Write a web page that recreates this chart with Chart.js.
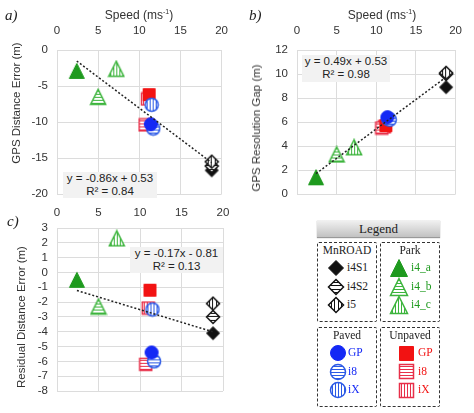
<!DOCTYPE html>
<html>
<head>
<meta charset="utf-8">
<script src="https://cdn.jsdelivr.net/npm/chart.js@4.4.1/dist/chart.umd.min.js"></script>
<style>
body { margin: 0; background: #fff; width: 474px; height: 413px; position: relative; overflow: hidden; font-family: "Liberation Sans", Arial, sans-serif; color: #333; }
canvas.plot { position: absolute; }
.txt { position: absolute; white-space: nowrap; }
.xtitle { font-size: 12px; transform: translate(-50%, -50%); }
.xtitle sup { font-size: 7px; }
.ytitle { font-size: 11.5px; transform: translate(-50%, -50%) rotate(-90deg); }
.tag { font-family: "Liberation Serif", serif; font-style: italic; font-size: 15px; color: #222; }
.eq { position: absolute; background: #f2f2f2; text-align: center; font-size: 11.5px; line-height: 13px; color: #222; padding-top: 0px; }
.lgbox { position: absolute; border: 1.5px dashed #333; box-sizing: border-box; border-radius: 2px; }
.lghead { position: absolute; background: linear-gradient(#f2f2f2, #c2c2c2); font-family: "Liberation Serif", serif; font-size: 13px; text-align: center; line-height: 17px; color: #222; box-shadow: 0 1px 1px #999; }
.lgtitle { position: absolute; width: 100%; text-align: center; font-family: "Liberation Serif", serif; font-size: 11.5px; color: #222; }
.lgitem { position: absolute; font-family: "Liberation Serif", serif; font-size: 11.5px; }
</style>
</head>
<body>

<canvas id="chartA" class="plot" width="240" height="210" style="left:0;top:0"></canvas>
<canvas id="chartB" class="plot" width="234" height="210" style="left:240px;top:0"></canvas>
<canvas id="chartC" class="plot" width="240" height="213" style="left:0;top:200px"></canvas>

<div class="txt tag" style="left:5px;top:7px">a)</div>
<div class="txt tag" style="left:249px;top:7px">b)</div>
<div class="txt tag" style="left:7px;top:213px">c)</div>

<div class="txt xtitle" style="left:139px;top:15px">Speed (ms<sup>-1</sup>)</div>
<div class="txt xtitle" style="left:382px;top:15px">Speed (ms<sup>-1</sup>)</div>

<div class="txt ytitle" style="left:16px;top:103px">GPS Distance Error (m)</div>
<div class="txt ytitle" style="left:256px;top:128px">GPS Resolution Gap (m)</div>
<div class="txt ytitle" style="left:21px;top:317px">Residual Distance Error (m)</div>

<div class="eq" id="eqA" style="left:63px;top:172px;width:94px;height:26px"></div>
<div class="eq" id="eqB" style="left:302px;top:55px;width:88px;height:27px"></div>
<div class="eq" id="eqC" style="left:130px;top:247px;width:93px;height:26px"></div>

<div id="legend"></div>

<script>
// series names (MnROAD, Park, Paved, Unpaved)
const names = ['i4S1', 'i4S2', 'i5', 'i4_a', 'i4_b', 'i4_c', 'GP', 'i8', 'iX', 'GP', 'i8', 'iX'];

// speed of each series (ms-1)
const speed = [18.8, 18.8, 18.8, 2.4, 5.0, 7.2, 11.4, 11.7, 11.5, 11.2, 10.7, 11.0];

// a) GPS distance error (m)
const distError = [-16.7, -16.1, -15.5, -2.9, -6.5, -2.6, -10.3, -10.9, -7.6, -6.2, -10.4, -6.8];
// b) GPS resolution gap (m)
const resGap = [8.9, 10.0, 10.1, 1.4, 3.3, 3.9, 6.4, 6.2, 6.3, 5.7, 5.5, 5.6];
// c) residual distance error (m)
const residError = [-4.1, -3.0, -2.1, -0.5, -2.3, 2.3, -5.4, -6.0, -2.5, -1.2, -6.2, -2.4];

// trend lines: [slope, intercept, R2]
const fitA = [-0.86, 0.53, 0.84];
const fitB = [0.49, 0.53, 0.98];
const fitC = [-0.17, -0.81, 0.13];

const xTicks = [0, 5, 10, 15, 20];
const yTicksA = [0, -5, -10, -15, -20];
const yTicksB = [0, 2, 4, 6, 8, 10, 12];
const yTicksC = [3, 2, 1, 0, -1, -2, -3, -4, -5, -6, -7, -8];

// marker looks
const BLACK = '#111', GREEN = '#1e9a1e', GREEN_L = '#3cb43c', BLUE = '#1428f5', BLUE_L = '#2c5ae6', RED = '#f21212', RED_L = '#e8304a';
const looks = [
    { shape: 'diamond', fill: 'solid', color: BLACK, size: 13 },
    { shape: 'diamond', fill: 'h', color: BLACK, size: 13 },
    { shape: 'diamond', fill: 'v', color: BLACK, size: 13 },
    { shape: 'tri', fill: 'solid', color: GREEN, size: 15 },
    { shape: 'tri', fill: 'h', color: GREEN_L, size: 15 },
    { shape: 'tri', fill: 'v', color: GREEN_L, size: 15 },
    { shape: 'circle', fill: 'solid', color: BLUE, size: 13 },
    { shape: 'circle', fill: 'h', color: BLUE_L, size: 13 },
    { shape: 'circle', fill: 'v', color: BLUE_L, size: 13 },
    { shape: 'square', fill: 'solid', color: RED, size: 12 },
    { shape: 'square', fill: 'h', color: RED_L, size: 12 },
    { shape: 'square', fill: 'v', color: RED_L, size: 12 }
];
// drawing order, lower = on top
const zOrder = [3, 2, 1, 4, 5, 6, 7, 8, 9, 11, 12, 13];

function makeMarker(look, size) {
    size = size || look.size;
    const pad = 1.5;
    const s = Math.ceil(size + 2 * pad);
    const cv = document.createElement('canvas');
    cv.width = s;
    cv.height = s;
    const g = cv.getContext('2d');
    const a = pad, b = s - pad, c = s / 2;
    const p = new Path2D();
    if (look.shape === 'tri') {
        p.moveTo(c, a); p.lineTo(b, b); p.lineTo(a, b); p.closePath();
    } else if (look.shape === 'square') {
        p.rect(a, a, b - a, b - a);
    } else if (look.shape === 'circle') {
        p.arc(c, c, (b - a) / 2, 0, Math.PI * 2);
    } else {
        p.moveTo(c, a); p.lineTo(b, c); p.lineTo(c, b); p.lineTo(a, c); p.closePath();
    }
    if (look.fill === 'solid') {
        g.fillStyle = look.color;
        g.fill(p);
        g.strokeStyle = look.color;
        g.lineWidth = 1;
        g.stroke(p);
    } else {
        g.fillStyle = '#fff';
        g.fill(p);
        g.save();
        g.clip(p);
        g.strokeStyle = look.color;
        g.lineWidth = 1;
        const step = look.shape === 'diamond' ? 3.5 : 3;
        for (let t = step; t < s; t += step) {
            g.beginPath();
            if (look.fill === 'h') {
                g.moveTo(0, Math.round(t) + 0.5); g.lineTo(s, Math.round(t) + 0.5);
            } else {
                g.moveTo(Math.round(t) + 0.5, 0); g.lineTo(Math.round(t) + 0.5, s);
            }
            g.stroke();
        }
        g.restore();
        g.strokeStyle = look.color;
        g.lineWidth = 1.5;
        g.stroke(p);
    }
    return cv;
}

const markers = looks.map(l => makeMarker(l));

const tickFont = { family: '"Liberation Sans", Arial, sans-serif', size: 11.5 };
const gridColor = '#dcdcdc';

function makePanel(id, yVals, fit, yTicks, opt) {
    const datasets = names.map((n, i) => ({
        label: n,
        data: [{ x: speed[i], y: yVals[i] }],
        pointStyle: markers[i],
        pointRadius: 7,
        order: zOrder[i]
    }));
    const xmin = Math.min(...speed), xmax = Math.max(...speed);
    datasets.push({
        label: 'trend',
        data: [{ x: xmin, y: fit[0] * xmin + fit[1] }, { x: xmax, y: fit[0] * xmax + fit[1] }],
        showLine: true,
        borderColor: '#222',
        borderWidth: 1.5,
        borderDash: [2, 2],
        pointRadius: 0,
        order: 0
    });
    const yMin = Math.min(...yTicks), yMax = Math.max(...yTicks);
    return new Chart(document.getElementById(id), {
        type: 'scatter',
        data: { datasets },
        options: {
            responsive: false,
            animation: false,
            layout: { padding: { left: 0, top: 0, right: opt.padR, bottom: opt.padB } },
            plugins: { legend: { display: false }, tooltip: { enabled: false } },
            scales: {
                x: {
                    type: 'linear',
                    position: 'top',
                    min: 0,
                    max: 20,
                    afterBuildTicks: s => { s.ticks = xTicks.map(v => ({ value: v })); },
                    afterFit: s => { s.height = opt.xH; },
                    grid: { color: gridColor, drawTicks: false },
                    border: { color: gridColor },
                    ticks: { font: tickFont, color: '#333', padding: opt.xPad, maxRotation: 0, autoSkip: false }
                },
                y: {
                    type: 'linear',
                    min: yMin,
                    max: yMax,
                    afterBuildTicks: s => { s.ticks = yTicks.map(v => ({ value: v })); },
                    afterFit: s => { s.width = opt.yW; },
                    grid: { color: gridColor, drawTicks: false },
                    border: { color: gridColor },
                    ticks: { font: tickFont, color: '#333', padding: 9, autoSkip: false }
                }
            }
        }
    });
}

makePanel('chartA', distError, fitA, yTicksA, { xH: 50, yW: 57, padR: 18, padB: 7, xPad: 12 });
makePanel('chartB', resGap, fitB, yTicksB, { xH: 50, yW: 57, padR: 7, padB: 9, xPad: 12 });
makePanel('chartC', residError, fitC, yTicksC, { xH: 28, yW: 57, padR: 17, padB: 22, xPad: 8 });

function fmt(v) {
    return v.toFixed(2);
}
function eqText(fit) {
    const sign = fit[1] < 0 ? ' - ' : ' + ';
    return 'y = ' + fmt(fit[0]) + 'x' + sign + fmt(Math.abs(fit[1])) + '<br>R² = ' + fmt(fit[2]);
}
document.getElementById('eqA').innerHTML = eqText(fitA);
document.getElementById('eqB').innerHTML = eqText(fitB);
document.getElementById('eqC').innerHTML = eqText(fitC);

// legend
const legend = document.getElementById('legend');
const head = document.createElement('div');
head.className = 'lghead';
head.style.cssText = 'left:317px;top:220px;width:123px;height:17px';
head.textContent = 'Legend';
legend.appendChild(head);

const groups = [
    { title: 'MnROAD', items: [0, 1, 2], left: 317, top: 242, text: '#222', iconX: 18, textX: 29 },
    { title: 'Park', items: [3, 4, 5], left: 380, top: 242, text: GREEN, iconX: 18, textX: 30 },
    { title: 'Paved', items: [6, 7, 8], left: 317, top: 327, text: BLUE, iconX: 20, textX: 30 },
    { title: 'Unpaved', items: [9, 10, 11], left: 380, top: 327, text: RED, iconX: 25, textX: 37 }
];
groups.forEach(gr => {
    const box = document.createElement('div');
    box.className = 'lgbox';
    box.style.cssText = `left:${gr.left}px;top:${gr.top}px;width:60px;height:80px`;
    const t = document.createElement('div');
    t.className = 'lgtitle';
    t.style.top = '1px';
    t.textContent = gr.title;
    box.appendChild(t);
    gr.items.forEach((idx, k) => {
        const cy = 25 + k * 18.5;
        const ic = makeMarker(looks[idx], looks[idx].size + 2);
        ic.style.cssText = `position:absolute;left:${gr.iconX - ic.width / 2}px;top:${cy - ic.height / 2}px`;
        box.appendChild(ic);
        const lb = document.createElement('div');
        lb.className = 'lgitem';
        lb.style.cssText = `left:${gr.textX}px;top:${cy - 7}px;color:${gr.text}`;
        lb.textContent = names[idx];
        box.appendChild(lb);
    });
    legend.appendChild(box);
});
</script>
</body>
</html>
